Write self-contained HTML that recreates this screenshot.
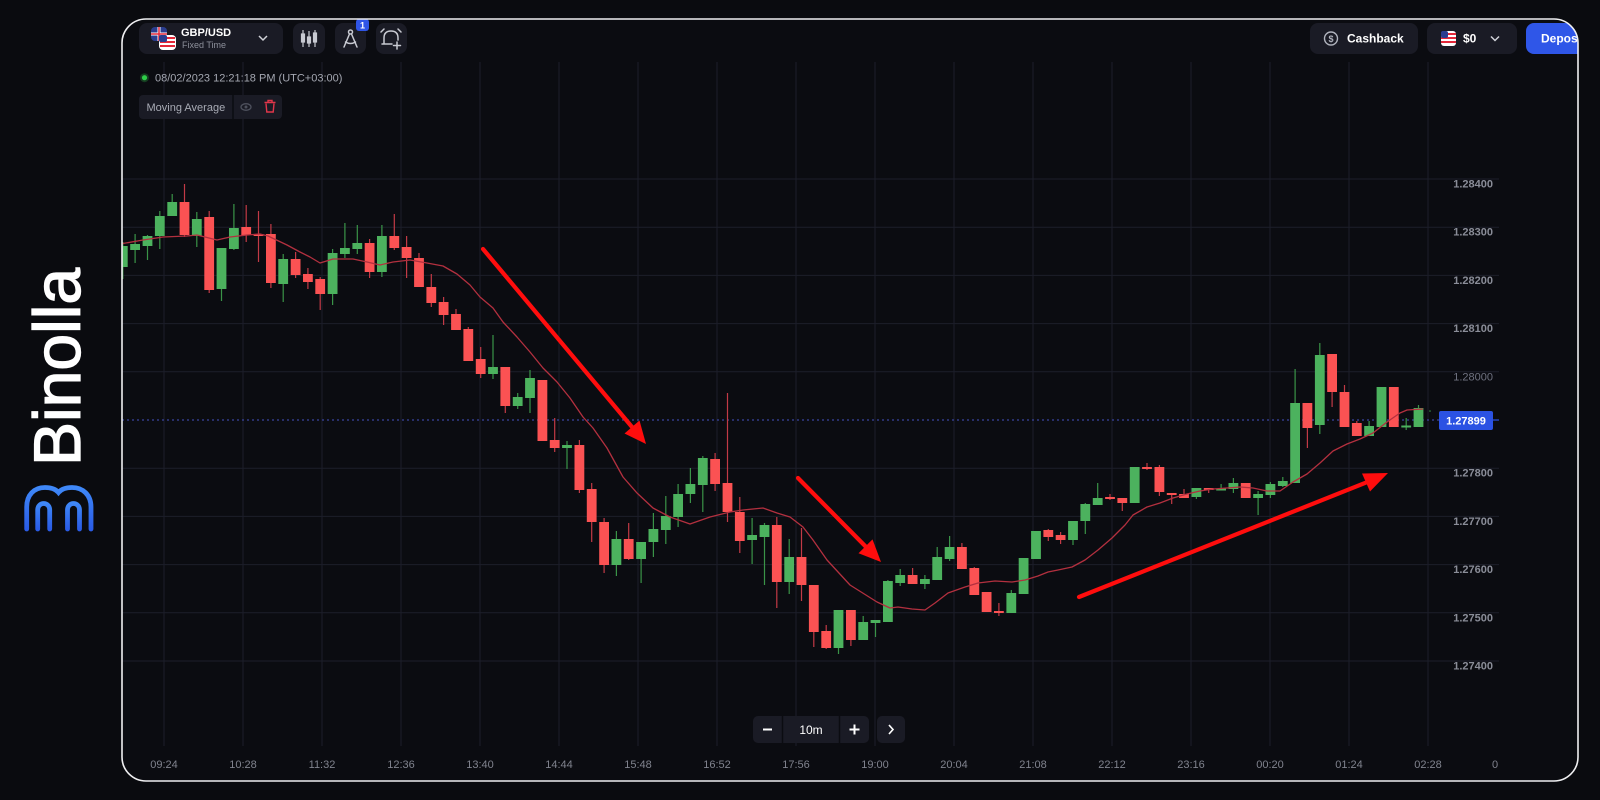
<!DOCTYPE html>
<html><head><meta charset="utf-8"><style>
html,body{margin:0;padding:0;background:#0a0b0f;width:1600px;height:800px;overflow:hidden}
svg{display:block}
text{font-family:"Liberation Sans",sans-serif}
</style></head><body>
<svg width="1600" height="800" viewBox="0 0 1600 800" xmlns="http://www.w3.org/2000/svg">
<defs>
<clipPath id="fr"><rect x="122" y="19" width="1456" height="762" rx="24"/></clipPath>
<linearGradient id="lg" x1="0" y1="0" x2="0" y2="1"><stop offset="0" stop-color="#3f88f8"/><stop offset="1" stop-color="#2a5ce6"/></linearGradient>
</defs>
<rect width="1600" height="800" fill="#0a0b0f"/>
<text transform="translate(80,466) rotate(-90)" font-size="66" fill="#ffffff" stroke="#ffffff" stroke-width="1.3">Binolla</text>
<g fill="none" stroke="url(#lg)" stroke-width="4.8" stroke-linecap="round">
<path d="M26.7 529 V507 C26.7 495 34 487.5 45 487.5 C52 487.5 56 489.5 58.5 492.5 C61 489.5 65 487.5 72 487.5 C83 487.5 91 495 91 507 V529"/>
<path d="M37.7 529 V510 C37.7 506 40.5 503.5 43.7 503.5 C46.9 503.5 49.7 506 49.7 510 V529"/>
<path d="M67.5 529 V510 C67.5 506 70.3 503.5 73.5 503.5 C76.7 503.5 79.5 506 79.5 510 V529"/>
</g>
<g clip-path="url(#fr)">
<rect x="122" y="19" width="1456" height="762" fill="#0b0c11"/>
<g stroke="#1c1e2a" stroke-width="1">
<path d="M164 62V746M243 62V746M322 62V746M401 62V746M480 62V746M559 62V746M638 62V746M717 62V746M796 62V746M875 62V746M954 62V746M1033 62V746M1112 62V746M1191 62V746M1270 62V746M1349 62V746M1428 62V746"/>
<path d="M122 179H1499M122 227.2H1499M122 275.4H1499M122 323.6H1499M122 371.8H1499M122 468.2H1499M122 516.4H1499M122 564.6H1499M122 612.8H1499M122 661H1499"/>
</g>
<line x1="122" y1="420" x2="1439" y2="420" stroke="#3a44a0" stroke-width="1.2" stroke-dasharray="2 3"/>
<line x1="1493" y1="420" x2="1499" y2="420" stroke="#2b52e3" stroke-width="1.2"/>
<path stroke="#3a9448" stroke-width="1.2" fill="none" d="M122.8 242V279 M135.1 234V263 M147.5 235V260 M159.8 211V249 M172.2 194V216 M196.8 212V247 M221.5 248V301 M233.9 204V250 M283.2 254V302 M332.6 249V305 M344.9 223V258 M357.3 225V254 M381.9 225V277 M493 335V379 M517.7 393V409 M530 370V413 M567 441V469 M616.4 531V576 M641.1 542V583 M653.4 513V557 M665.8 496V544 M678.1 484V527 M690.4 468V503 M702.8 456V512 M752.1 518V564 M764.5 523V585 M789.2 539V594 M838.5 610V654 M863.2 616V640 M875.5 620V637 M887.9 580V622 M900.2 569V586 M924.9 575V589 M937.2 547V580 M949.6 536V561 M1011.3 590V613 M1023.6 558V594 M1036 531V559 M1073 521V545 M1085.3 503V534 M1097.7 483V505 M1134.7 467V503 M1196.4 488V499 M1221.1 484V490 M1233.4 478V493 M1258.1 491V515 M1270.4 482V498 M1282.8 477V487 M1295.1 369V483 M1319.8 343V434 M1369.1 421V436 M1381.5 387V427 M1406.2 418V430 M1418.5 405V427"/>
<g fill="#4cb25e" transform="translate(-0.4,0)">
<rect x="118.3" y="246" width="9.8" height="21"/>
<rect x="130.6" y="244" width="9.8" height="6"/>
<rect x="143" y="236" width="9.8" height="10"/>
<rect x="155.3" y="216" width="9.8" height="20"/>
<rect x="167.7" y="202" width="9.8" height="14"/>
<rect x="192.3" y="219" width="9.8" height="17"/>
<rect x="217" y="248" width="9.8" height="41"/>
<rect x="229.4" y="228" width="9.8" height="21"/>
<rect x="278.7" y="259" width="9.8" height="25"/>
<rect x="328.1" y="253" width="9.8" height="41"/>
<rect x="340.4" y="248" width="9.8" height="6"/>
<rect x="352.8" y="243" width="9.8" height="6"/>
<rect x="377.4" y="236" width="9.8" height="36"/>
<rect x="488.5" y="367" width="9.8" height="7"/>
<rect x="513.2" y="397" width="9.8" height="9"/>
<rect x="525.5" y="378" width="9.8" height="20"/>
<rect x="562.5" y="445" width="9.8" height="3"/>
<rect x="611.9" y="539" width="9.8" height="26"/>
<rect x="636.6" y="542" width="9.8" height="17"/>
<rect x="648.9" y="529" width="9.8" height="13"/>
<rect x="661.3" y="516" width="9.8" height="14"/>
<rect x="673.6" y="494" width="9.8" height="23"/>
<rect x="685.9" y="484" width="9.8" height="10"/>
<rect x="698.3" y="458" width="9.8" height="27"/>
<rect x="747.6" y="535" width="9.8" height="5"/>
<rect x="760" y="525" width="9.8" height="12"/>
<rect x="784.7" y="557" width="9.8" height="25"/>
<rect x="834" y="610" width="9.8" height="38"/>
<rect x="858.7" y="622" width="9.8" height="18"/>
<rect x="871" y="620" width="9.8" height="3"/>
<rect x="883.4" y="581" width="9.8" height="41"/>
<rect x="895.7" y="575" width="9.8" height="8"/>
<rect x="920.4" y="579" width="9.8" height="5"/>
<rect x="932.7" y="557" width="9.8" height="23"/>
<rect x="945.1" y="547" width="9.8" height="12"/>
<rect x="1006.8" y="593" width="9.8" height="20"/>
<rect x="1019.1" y="558" width="9.8" height="36"/>
<rect x="1031.5" y="531" width="9.8" height="28"/>
<rect x="1068.5" y="521" width="9.8" height="19"/>
<rect x="1080.8" y="504" width="9.8" height="17"/>
<rect x="1093.2" y="498" width="9.8" height="7"/>
<rect x="1130.2" y="467" width="9.8" height="36"/>
<rect x="1191.9" y="488" width="9.8" height="9"/>
<rect x="1216.6" y="488.5" width="9.8" height="2"/>
<rect x="1228.9" y="483" width="9.8" height="6"/>
<rect x="1253.6" y="494" width="9.8" height="4"/>
<rect x="1265.9" y="484" width="9.8" height="11"/>
<rect x="1278.3" y="481" width="9.8" height="5"/>
<rect x="1290.6" y="403" width="9.8" height="80"/>
<rect x="1315.3" y="355" width="9.8" height="70"/>
<rect x="1364.6" y="426" width="9.8" height="10"/>
<rect x="1377" y="387" width="9.8" height="40"/>
<rect x="1401.7" y="425.5" width="9.8" height="2"/>
<rect x="1414" y="408" width="9.8" height="19"/>
</g>
<path stroke="#c23a46" stroke-width="1.2" fill="none" d="M184.5 184V237 M209.2 211V293 M246.2 205V242 M258.5 211V262 M270.9 224V288 M295.6 252V278 M307.9 268V289 M320.2 277V310 M369.6 239V278 M394.3 214V250 M406.6 236V278 M419 253V287 M431.3 274V307 M443.6 297V325 M456 309V330 M468.3 327V361 M480.7 347V378 M505.3 367V413 M554.7 418V452 M579.4 440V493 M591.7 483V542 M604.1 518V573 M628.7 523V560 M715.1 453V491 M727.5 393V522 M739.8 497V553 M776.8 517V608 M801.5 528V601 M813.8 585V647 M826.2 625V649 M850.9 610V646 M912.6 568V584 M961.9 543V569 M974.3 567V595 M998.9 603V616 M1048.3 529V541 M1060.6 532V544 M1110 494V500 M1122.3 498V511 M1147 463V470 M1159.4 465V496 M1171.7 493V504 M1184 489V498 M1208.7 488V493 M1307.4 403V448 M1332.1 354V407 M1344.5 385V427 M1356.8 421V436"/>
<g fill="#fb5253" transform="translate(-0.4,0)">
<rect x="180" y="202" width="9.8" height="33"/>
<rect x="204.7" y="217" width="9.8" height="73"/>
<rect x="241.7" y="227" width="9.8" height="8"/>
<rect x="254" y="234" width="9.8" height="2"/>
<rect x="266.4" y="234" width="9.8" height="49"/>
<rect x="291.1" y="259" width="9.8" height="16"/>
<rect x="303.4" y="274" width="9.8" height="8"/>
<rect x="315.7" y="279" width="9.8" height="15"/>
<rect x="365.1" y="243" width="9.8" height="29"/>
<rect x="389.8" y="236" width="9.8" height="12"/>
<rect x="402.1" y="247" width="9.8" height="11"/>
<rect x="414.5" y="258" width="9.8" height="29"/>
<rect x="426.8" y="287" width="9.8" height="16"/>
<rect x="439.1" y="302" width="9.8" height="13"/>
<rect x="451.5" y="314" width="9.8" height="16"/>
<rect x="463.8" y="329" width="9.8" height="32"/>
<rect x="476.2" y="359" width="9.8" height="15"/>
<rect x="500.8" y="367" width="9.8" height="39"/>
<rect x="537.9" y="380" width="9.8" height="61"/>
<rect x="550.2" y="440" width="9.8" height="8"/>
<rect x="574.9" y="445" width="9.8" height="45"/>
<rect x="587.2" y="489" width="9.8" height="33"/>
<rect x="599.6" y="522" width="9.8" height="43"/>
<rect x="624.2" y="539" width="9.8" height="20"/>
<rect x="710.6" y="459" width="9.8" height="25"/>
<rect x="723" y="483" width="9.8" height="29"/>
<rect x="735.3" y="512" width="9.8" height="29"/>
<rect x="772.3" y="525" width="9.8" height="57"/>
<rect x="797" y="557" width="9.8" height="28"/>
<rect x="809.3" y="585" width="9.8" height="47"/>
<rect x="821.7" y="631" width="9.8" height="17"/>
<rect x="846.4" y="610" width="9.8" height="30"/>
<rect x="908.1" y="575" width="9.8" height="9"/>
<rect x="957.4" y="547" width="9.8" height="22"/>
<rect x="969.8" y="568" width="9.8" height="27"/>
<rect x="982.1" y="592" width="9.8" height="20"/>
<rect x="994.4" y="611" width="9.8" height="2"/>
<rect x="1043.8" y="530" width="9.8" height="7"/>
<rect x="1056.1" y="535" width="9.8" height="5"/>
<rect x="1105.5" y="497" width="9.8" height="2"/>
<rect x="1117.8" y="498" width="9.8" height="5"/>
<rect x="1142.5" y="467" width="9.8" height="2"/>
<rect x="1154.9" y="467" width="9.8" height="25"/>
<rect x="1167.2" y="493" width="9.8" height="2"/>
<rect x="1179.5" y="494" width="9.8" height="4"/>
<rect x="1204.2" y="488" width="9.8" height="2"/>
<rect x="1241.2" y="483" width="9.8" height="15"/>
<rect x="1302.9" y="403" width="9.8" height="25"/>
<rect x="1327.6" y="354" width="9.8" height="38"/>
<rect x="1340" y="392" width="9.8" height="35"/>
<rect x="1352.3" y="423" width="9.8" height="13"/>
<rect x="1389.3" y="387" width="9.8" height="40"/>
</g>
<circle cx="1430" cy="411" r="0.8" fill="#3a9448"/>
<polyline fill="none" stroke="#b3303f" stroke-width="1.3" stroke-linejoin="round" points="120,244 143,240 163,237 187,236 197,235 217,240 230,237 247,235 260,234 268,236 287,245 300,252 310,257 320,263 333,259 353,259 367,262 380,265 393,262 410,260 427,263 443,266 457,274 470,285 480,297 493,308 503,322 517,337 530,352 543,368 557,382 570,398 583,417 593,428 607,448 623,477 637,493 653,508 670,517 690,524 710,517 730,512 743,510 763,508 777,513 790,517 803,527 813,540 827,560 850,585 877,602 890,608 898,607 912,609 925,610 935,603 948,593 965,587 978,583 995,581 1012,582 1025,580 1038,576 1048,572 1058,570 1072,567 1085,560 1098,550 1112,538 1125,525 1133,515 1147,507 1160,503 1173,498 1187,494 1200,491 1213,489 1227,488 1240,487 1253,488 1267,491 1280,491 1293,482 1307,474 1320,463 1333,451 1347,444 1360,439 1373,433 1387,422 1400,413 1407,410 1423,409"/>
<g stroke="#ff0d0d" stroke-width="4.2" stroke-linecap="round">
<line x1="483" y1="249" x2="632" y2="427"/>
<line x1="798" y1="478" x2="865.5" y2="546.4"/>
<line x1="1079" y1="597" x2="1366" y2="482.6"/>
</g>
<g fill="#ff0d0d">
<polygon points="646,444 624.5,433.5 639.5,420.5"/>
<polygon points="881,562 858.5,553.3 872.5,539.4"/>
<polygon points="1388,473 1370,491.5 1362,473.5"/>
</g>
<g font-size="11" fill="#8a8d98" text-anchor="end" font-weight="bold">
<text x="1493" y="187.5">1.28400</text>
<text x="1493" y="235.7">1.28300</text>
<text x="1493" y="283.9">1.28200</text>
<text x="1493" y="332.1">1.28100</text>
<text x="1493" y="380.3" font-weight="normal" fill="#6f7280">1.28000</text>
<text x="1493" y="476.7">1.27800</text>
<text x="1493" y="524.9">1.27700</text>
<text x="1493" y="573.1">1.27600</text>
<text x="1493" y="621.3">1.27500</text>
<text x="1493" y="669.5">1.27400</text>
</g>
<rect x="1439" y="411" width="54" height="19" rx="2" fill="#2b52e3"/>
<text x="1466" y="424.5" font-size="11" font-weight="bold" fill="#ffffff" text-anchor="middle">1.27899</text>
<g font-size="11" fill="#80838e" text-anchor="middle">
<text x="164" y="768">09:24</text>
<text x="243" y="768">10:28</text>
<text x="322" y="768">11:32</text>
<text x="401" y="768">12:36</text>
<text x="480" y="768">13:40</text>
<text x="559" y="768">14:44</text>
<text x="638" y="768">15:48</text>
<text x="717" y="768">16:52</text>
<text x="796" y="768">17:56</text>
<text x="875" y="768">19:00</text>
<text x="954" y="768">20:04</text>
<text x="1033" y="768">21:08</text>
<text x="1112" y="768">22:12</text>
<text x="1191" y="768">23:16</text>
<text x="1270" y="768">00:20</text>
<text x="1349" y="768">01:24</text>
<text x="1428" y="768">02:28</text>
<text x="1495" y="768">0</text>
</g>
<rect x="753" y="716" width="116" height="27" rx="5" fill="#1a1b25"/>
<line x1="782.5" y1="716" x2="782.5" y2="743" stroke="#0b0c11" stroke-width="1.5"/>
<line x1="839.5" y1="716" x2="839.5" y2="743" stroke="#0b0c11" stroke-width="1.5"/>
<line x1="763" y1="729.5" x2="772" y2="729.5" stroke="#ffffff" stroke-width="2"/>
<text x="811" y="734" font-size="12" fill="#ffffff" text-anchor="middle">10m</text>
<path d="M849.5 729.5H859.5M854.5 724.5V734.5" stroke="#ffffff" stroke-width="2"/>
<rect x="877" y="716" width="28" height="27" rx="5" fill="#1a1b25"/>
<polyline points="889,725 893,729.5 889,734" fill="none" stroke="#ffffff" stroke-width="1.6"/>
<rect x="139" y="23" width="144" height="31" rx="8" fill="#1a1b25"/>
<rect x="151" y="27" width="16" height="14" rx="4" fill="#2a3d8f"/>
<path d="M151 34H167M159 27V41" stroke="#ffffff" stroke-width="3"/>
<path d="M151 34H167M159 27V41" stroke="#e3283a" stroke-width="1.5"/>
<rect x="159" y="35" width="17" height="15" rx="4" fill="#ffffff"/>
<path d="M160 38H175M160 42H175M160 46H175" stroke="#e3283a" stroke-width="2"/>
<rect x="159" y="35" width="8" height="7" rx="2" fill="#2a3d8f"/>
<text x="181" y="36" font-size="11" font-weight="bold" fill="#ffffff">GBP/USD</text>
<text x="182" y="48" font-size="9" fill="#8d909b">Fixed Time</text>
<polyline points="259,36 263,40 267,36" fill="none" stroke="#d0d2d8" stroke-width="1.5"/>
<rect x="293" y="23" width="32" height="31" rx="8" fill="#1a1b25"/>
<g stroke="#c8cad2" stroke-width="1.2" fill="none">
<path d="M303 30V47M309 31V47M315 30V47"/>
<rect x="301.5" y="34" width="3" height="8" fill="#c8cad2"/>
<rect x="307.5" y="37" width="3" height="6" fill="#c8cad2"/>
<rect x="313.5" y="33" width="3" height="9" fill="#c8cad2"/>
</g>
<rect x="335" y="23" width="31" height="31" rx="8" fill="#1a1b25"/>
<g stroke="#c8cad2" stroke-width="1.5" fill="none" stroke-linecap="round">
<circle cx="350.5" cy="32" r="2"/>
<path d="M349.5 34L344 47M351.5 34L357 47M345.5 42Q350.5 45 355.5 42"/>
</g>
<rect x="356" y="19" width="13" height="12" rx="3" fill="#2f55e6"/>
<text x="362.5" y="28.5" font-size="9" font-weight="bold" fill="#ffffff" text-anchor="middle">1</text>
<rect x="376" y="23" width="31" height="31" rx="8" fill="#1a1b25"/>
<g stroke="#c8cad2" stroke-width="1.5" fill="none" stroke-linecap="round">
<path d="M384 44V38Q384 31 391 31Q398 31 398 38V40M382 44H392M381 32L384 29M401 32L398 29"/>
<path d="M397 42V49M393.5 45.5H400.5"/>
</g>
<circle cx="144.5" cy="77.7" r="4.5" fill="#153d20"/>
<circle cx="144.5" cy="77.7" r="2.6" fill="#2ecc48"/>
<text x="155" y="81.5" font-size="11" fill="#a4a7b1">08/02/2023 12:21:18 PM (UTC+03:00)</text>
<rect x="139" y="95" width="143" height="24" rx="4" fill="#1a1b25"/>
<line x1="233" y1="95" x2="233" y2="119" stroke="#0b0c11" stroke-width="1.5"/>
<text x="146.5" y="111" font-size="11" fill="#a8abb5">Moving Average</text>
<ellipse cx="246" cy="107" rx="5" ry="3.3" fill="none" stroke="#4d505c" stroke-width="1.3"/>
<circle cx="246" cy="107" r="1.5" fill="#4d505c"/>
<g stroke="#e0364a" stroke-width="1.4" fill="none">
<path d="M264.5 102.5H275.5M268 102.5V100.5H272V102.5"/>
<path d="M266 103.5L266.8 112H273.2L274 103.5"/>
</g>
<rect x="1310" y="23" width="108" height="31" rx="8" fill="#1a1b25"/>
<circle cx="1331" cy="38.5" r="6.5" fill="none" stroke="#b0b3bd" stroke-width="1.4"/>
<text x="1331" y="42" font-size="9" font-weight="bold" fill="#b0b3bd" text-anchor="middle">$</text>
<text x="1347" y="42.5" font-size="12" font-weight="bold" fill="#ffffff">Cashback</text>
<rect x="1427" y="23" width="90" height="31" rx="8" fill="#1a1b25"/>
<rect x="1441" y="31" width="15" height="15" rx="3" fill="#ffffff"/>
<path d="M1441 34H1456M1441 38H1456M1441 42H1456" stroke="#e3283a" stroke-width="2"/>
<rect x="1441" y="31" width="7" height="7" rx="2" fill="#2a3d8f"/>
<text x="1463" y="42.5" font-size="12" font-weight="bold" fill="#ffffff">$0</text>
<polyline points="1491,36.5 1495,40.5 1499,36.5" fill="none" stroke="#d0d2d8" stroke-width="1.5"/>
<rect x="1526" y="23" width="80" height="31" rx="8" fill="#2f56e8"/>
<text x="1541" y="42.5" font-size="12" font-weight="bold" fill="#ffffff">Deposit</text>
</g>
<rect x="122" y="19" width="1456" height="762" rx="24" fill="none" stroke="#f0f0f2" stroke-width="1.6"/>
</svg>
</body></html>
